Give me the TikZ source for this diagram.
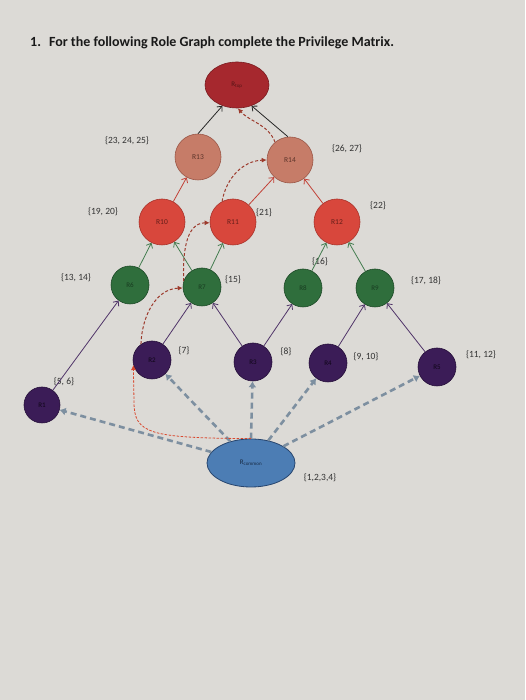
\documentclass[tikz,border=0pt]{standalone}
\usepackage{fontspec}
\setmainfont{Carlito}
\usetikzlibrary{arrows.meta,shapes.geometric}
\definecolor{paper}{HTML}{DCDAD6}
\definecolor{topfill}{HTML}{A6282E}
\definecolor{topdraw}{HTML}{7A1C20}
\definecolor{salfill}{HTML}{C67C68}
\definecolor{saldraw}{HTML}{9A5646}
\definecolor{redfill}{HTML}{D8473C}
\definecolor{reddraw}{HTML}{A8322A}
\definecolor{grnfill}{HTML}{2F6E3C}
\definecolor{grndraw}{HTML}{1E4A28}
\definecolor{purfill}{HTML}{3B1C57}
\definecolor{purdraw}{HTML}{26103A}
\definecolor{blufill}{HTML}{4C7DB4}
\definecolor{bludraw}{HTML}{27456E}
\definecolor{greydash}{HTML}{7D8FA0}
\definecolor{chain}{HTML}{9C3A2C}
\definecolor{chainb}{HTML}{D9482E}
\definecolor{lbl}{HTML}{333333}
\begin{document}
\begin{tikzpicture}[x=1pt,y=1pt,
  role/.style={circle,inner sep=0pt,line width=0.6pt,font=\fontsize{7}{8}\selectfont},
  topst/.style={ellipse,inner sep=0pt,minimum width=64pt,minimum height=46pt,fill=topfill,draw=topdraw,line width=0.6pt,text=topdraw!70!black,font=\fontsize{7}{8}\selectfont},
  salst/.style={role,minimum size=46pt,fill=salfill,draw=saldraw,text=saldraw!60!black,font=\fontsize{7.5}{8}\selectfont},
  redst/.style={role,minimum size=46pt,fill=redfill,draw=reddraw,text=reddraw!60!black,font=\fontsize{7.5}{8}\selectfont},
  grnst/.style={role,minimum size=38pt,fill=grnfill,draw=grndraw,text=grndraw!80!black},
  purst/.style={role,minimum size=38pt,fill=purfill,draw=purdraw,text=purdraw!40!black},
  comst/.style={ellipse,inner sep=0pt,minimum width=88pt,minimum height=48pt,fill=blufill,draw=bludraw,line width=0.8pt,text=bludraw!60!black,font=\fontsize{7}{8}\selectfont},
  setlbl/.style={text=lbl,font=\fontsize{9.5}{10}\selectfont,inner sep=0pt},
  edge/.style={line width=0.8pt,-{Straight Barb[length=4pt,width=7pt]}},
  blk/.style={edge,draw=black!85},
  redl/.style={edge,draw=redfill!90!black},
  grnl/.style={edge,draw=grnfill!90!white},
  purl/.style={edge,draw=purfill!90!white},
  gdash/.style={draw=greydash,line width=2.6pt,dash pattern=on 6pt off 4pt,-{Latex[length=6pt,width=8pt]}},
  chainl/.style={draw=chain,line width=1pt,dash pattern=on 3pt off 2pt,-{Latex[length=5pt,width=5pt]}},
  chainf/.style={draw=chainb,line width=0.8pt,dash pattern=on 2.5pt off 1.5pt,-{Latex[length=5pt,width=5pt]}}
]
\useasboundingbox (0,0) rectangle (525,700);
\fill[paper] (0,0) rectangle (525,700);

\node[anchor=base west,inner sep=0pt,font=\fontsize{14}{16}\selectfont\bfseries,text=black!90] (title) at (30,653)
  {1.\hspace{8pt}For the following Role Graph complete the Privilege Matrix.};

% nodes
\node[topst] (Rt) at (237,615) {R\textsubscript{top}};
\node[salst] (R13) at (198,543) {R13};
\node[salst] (R14) at (290,540) {R14};
\node[redst] (R10) at (162,478) {R10};
\node[redst] (R11) at (233,478) {R11};
\node[redst] (R12) at (337,478) {R12};
\node[grnst] (R6) at (130,415) {R6};
\node[grnst] (R7) at (202,413) {R7};
\node[grnst] (R8) at (303,412) {R8};
\node[grnst] (R9) at (375,412) {R9};
\node[purst] (R2) at (152,340) {R2};
\node[purst] (R3) at (253,338) {R3};
\node[purst] (R4) at (328,337) {R4};
\node[purst] (R5) at (437,333) {R5};
\node[purst,minimum size=36pt] (R1) at (42,295) {R1};
\node[comst] (Rc) at (251,237) {R\textsubscript{common}};

% privilege sets
\node[setlbl] (s13) at (127,559) {\{23, 24, 25\}};
\node[setlbl] (s14) at (347,551) {\{26, 27\}};
\node[setlbl] (s12) at (378,494) {\{22\}};
\node[setlbl] (s10) at (103,488) {\{19, 20\}};
\node[setlbl] (s11) at (264,487) {\{21\}};
\node[setlbl] (s8) at (320,438) {\{16\}};
\node[setlbl] (s6) at (76,422) {\{13, 14\}};
\node[setlbl] (s7) at (233,420) {\{15\}};
\node[setlbl] (s9) at (426,419) {\{17, 18\}};
\node[setlbl] (s2) at (184,349) {\{7\}};
\node[setlbl] (s3) at (286,348) {\{8\}};
\node[setlbl] (s4) at (366,343) {\{9, 10\}};
\node[setlbl] (s5) at (481,345) {\{11, 12\}};
\node[setlbl] (s1) at (64,318) {\{5, 6\}};
\node[setlbl] (sc) at (320,222) {\{1,2,3,4\}};

% solid edges
\draw[blk] (R13.north) -- (Rt.235);
\draw[blk] (R14.95) -- (Rt.305);
\draw[redl] (R10) -- (R13);
\draw[redl] (R11) -- (R14);
\draw[redl] (R12) -- (R14);
\draw[grnl] (R6) -- (R10);
\draw[grnl] (R7) -- (R10);
\draw[grnl] (R7) -- (R11);
\draw[grnl] (R8) -- (R12);
\draw[grnl] (R9) -- (R12);
\draw[purl] (R1) -- (R6);
\draw[purl] (R2) -- (R7);
\draw[purl] (R3) -- (R7);
\draw[purl] (R3) -- (R8);
\draw[purl] (R4) -- (R9);
\draw[purl] (R5) -- (R9);

% grey dashed edges
\draw[gdash] (Rc) -- (R1);
\draw[gdash] (Rc) -- (R2);
\draw[gdash] (Rc.north) -- (R3);
\draw[gdash] (Rc) -- (R4);
\draw[gdash] (Rc) -- (R5);

% red dashed chain
\draw[chainf] (Rc.north) .. controls (150,262) and (134,266) .. (134,298) -- (R2.195);
\draw[chainl] (R2.125) to[out=88,in=182] (R7.183);
\draw[chainl] (R7.162) to[out=92,in=180] (R11.182);
\draw[chainl] (R11.118) to[out=80,in=182] (R14.180);
\draw[chainl] (R14.130) .. controls (268,576) and (250,578) .. (Rt.272);
\end{tikzpicture}
\end{document}
